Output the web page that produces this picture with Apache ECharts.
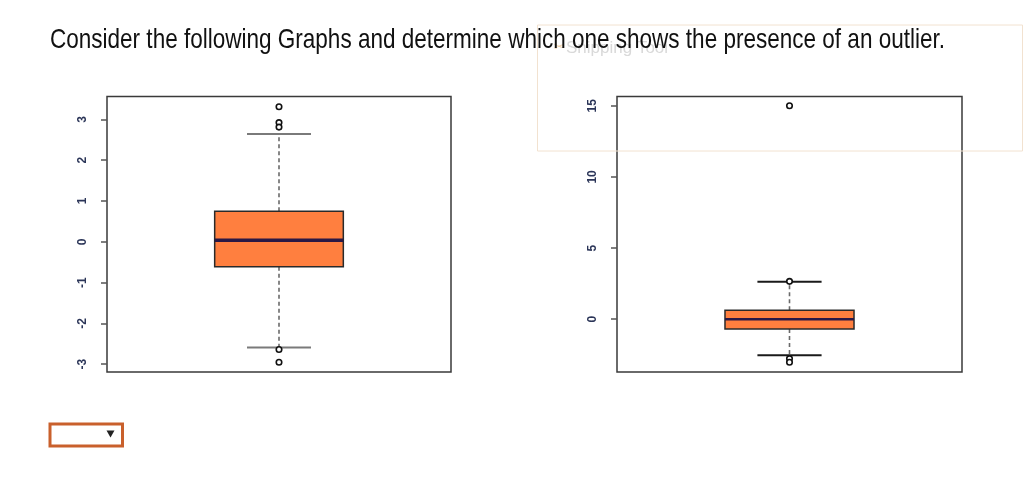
<!DOCTYPE html>
<html>
<head>
<meta charset="utf-8">
<script src="https://cdn.jsdelivr.net/npm/echarts@6/dist/echarts.min.js"></script>
<style>
html,body{margin:0;padding:0;background:#fff;}
#chart{width:1024px;height:478px;}
</style>
</head>
<body>
<div id="chart"></div>
<script>
// ---- data ----
const titleText = 'Consider the following Graphs and determine which one shows the presence of an outlier.';
// [lower whisker, Q1, median, Q3, upper whisker]
const leftStats = [-2.59, -0.61, 0.04, 0.75, 2.64];
const leftOutliers = [3.31, 2.92, 2.81, -2.64, -2.95];
const leftTicks = [-3, -2, -1, 0, 1, 2, 3];
const rightStats = [-2.54, -0.68, 0.0, 0.63, 2.63];
const rightOutliers = [15.0, 2.66, -2.77, -3.03];
const rightTicks = [0, 5, 10, 15];

const BOX_X = 0.5;

function boxRenderer(staple, median) {
  return function (params, api) {
    const x = api.value(0);
    const lo = api.coord([x, api.value(1)]);
    const q1 = api.coord([x, api.value(2)]);
    const md = api.coord([x, api.value(3)]);
    const q3 = api.coord([x, api.value(4)]);
    const hi = api.coord([x, api.value(5)]);
    const gw = params.coordSys.width;
    const half = gw * 0.187;
    const sh = gw * 0.093;
    const cx = lo[0];
    const dash = {stroke: '#6a6a6a', lineWidth: 1.6, lineDash: [4, 3]};
    return {
      type: 'group',
      children: [
        {type: 'line', shape: {x1: cx, y1: q3[1], x2: cx, y2: hi[1]}, style: dash},
        {type: 'line', shape: {x1: cx, y1: q1[1], x2: cx, y2: lo[1]}, style: dash},
        {type: 'line', shape: {x1: cx - sh, y1: hi[1], x2: cx + sh, y2: hi[1]}, style: {stroke: staple, lineWidth: 2}},
        {type: 'line', shape: {x1: cx - sh, y1: lo[1], x2: cx + sh, y2: lo[1]}, style: {stroke: staple, lineWidth: 2}},
        {type: 'rect', shape: {x: cx - half, y: q3[1], width: half * 2, height: q1[1] - q3[1]},
          style: {fill: '#ff7f3f', stroke: '#2a2a2a', lineWidth: 1.5}},
        {type: 'line', shape: {x1: cx - half, y1: md[1], x2: cx + half, y2: md[1]},
          style: {stroke: '#2a1845', lineWidth: median}}
      ]
    };
  };
}

function yAxisCfg(idx, min, max, ticks) {
  return {
    type: 'value', gridIndex: idx, min: min, max: max,
    splitLine: {show: false},
    axisLine: {show: false},
    offset: 2,
    axisTick: {show: true, length: 6, lineStyle: {color: '#555', width: 1.5}, customValues: ticks},
    axisLabel: {rotate: 90, color: '#2b3558', fontSize: 12, fontWeight: 'bold', fontFamily: 'Liberation Sans', margin: 16, customValues: ticks}
  };
}

// measure title to mimic the narrow face
const cv = document.createElement('canvas').getContext('2d');
cv.font = '28px "Liberation Sans"';
const tw = cv.measureText(titleText).width;
const titleScale = 895 / tw;

const chart = echarts.init(document.getElementById('chart'), null, {renderer: 'canvas'});
chart.setOption({
  backgroundColor: '#ffffff',
  animation: false,
  grid: [
    {left: 107, top: 96.5, width: 344, height: 275.5, show: true, borderColor: '#3a3a3a', borderWidth: 1.5, backgroundColor: 'transparent'},
    {left: 617, top: 96.5, width: 345, height: 275.5, show: true, borderColor: '#3a3a3a', borderWidth: 1.5, backgroundColor: 'transparent'}
  ],
  xAxis: [
    {type: 'value', gridIndex: 0, min: 0, max: 1, show: false},
    {type: 'value', gridIndex: 1, min: 0, max: 1, show: false}
  ],
  yAxis: [
    yAxisCfg(0, -3.19, 3.56, leftTicks),
    yAxisCfg(1, -3.71, 15.65, rightTicks)
  ],
  series: [
    {type: 'custom', xAxisIndex: 0, yAxisIndex: 0, renderItem: boxRenderer('#7a7a7a', 3.5),
      encode: {x: 0, y: [1, 2, 3, 4, 5]}, data: [[BOX_X].concat(leftStats)], clip: false, silent: true},
    {type: 'scatter', xAxisIndex: 0, yAxisIndex: 0, symbol: 'circle', symbolSize: 5.5,
      itemStyle: {color: '#fff', borderColor: '#111', borderWidth: 1.6, opacity: 1},
      data: leftOutliers.map(v => [BOX_X, v]), z: 5, silent: true},
    {type: 'custom', xAxisIndex: 1, yAxisIndex: 1, renderItem: boxRenderer('#1a1a1a', 2.5),
      encode: {x: 0, y: [1, 2, 3, 4, 5]}, data: [[BOX_X].concat(rightStats)], clip: false, silent: true},
    {type: 'scatter', xAxisIndex: 1, yAxisIndex: 1, symbol: 'circle', symbolSize: 5.5,
      itemStyle: {color: '#fff', borderColor: '#111', borderWidth: 1.6, opacity: 1},
      data: rightOutliers.map(v => [BOX_X, v]), z: 5, silent: true}
  ],
  graphic: [
    {type: 'rect', z: 50, shape: {x: 537.5, y: 25, width: 485, height: 126},
      style: {fill: 'transparent', stroke: '#f2e2d0', lineWidth: 1}, silent: true},
    {type: 'text', z: 51, x: 554, y: 48,
      style: {text: '✂', fill: '#f0d2ac', fontSize: 13, verticalAlign: 'middle', fontFamily: 'DejaVu Sans'}, silent: true},
    {type: 'text', z: 51, x: 566, y: 48,
      style: {text: 'Snipping Tool', fill: '#d9d9d9', fontSize: 17, verticalAlign: 'middle', fontFamily: 'Liberation Sans'}, silent: true},
    {type: 'text', z: 60, x: 50, y: 40, scaleX: titleScale,
      style: {text: titleText, fill: '#111', fontSize: 28, fontFamily: 'Liberation Sans', verticalAlign: 'middle'}, silent: true},
    {type: 'rect', z: 60, shape: {x: 50, y: 424, width: 72.5, height: 22},
      style: {fill: '#fff', stroke: '#c9602c', lineWidth: 3}, silent: true},
    {type: 'polygon', z: 61, shape: {points: [[106.5, 430.5], [114.5, 430.5], [110.5, 437.5]]},
      style: {fill: '#222'}, silent: true}
  ]
});
</script>
</body>
</html>
